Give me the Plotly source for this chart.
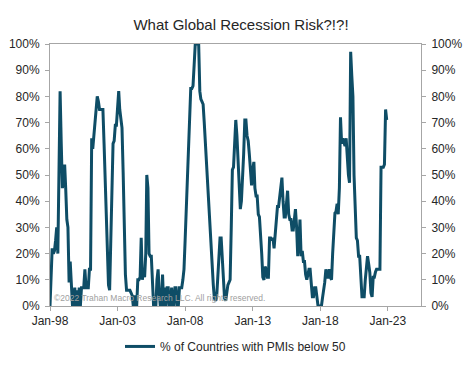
import plotly.graph_objects as go
import pandas as pd

# Monthly share of countries with PMI below 50 (%), Jan-1998 .. Dec-2022
start_month = "1998-01-01"
y1998 = [0, 10, 22, 20, 21, 25, 30, 20, 55, 82, 62, 45]
y1999 = [48, 54, 45, 33, 30, 9, 17, 5, 0, 0, 7, 0]
y2000 = [6, 0, 7, 0, 7, 7, 7, 14, 7, 7, 7, 14]
y2001 = [14, 64, 60, 65, 70, 78, 80, 78, 75, 75, 75, 75]
y2002 = [62, 48, 34, 20, 8, 6, 25, 45, 62, 63, 69, 69]
y2003 = [75, 82, 75, 72, 68, 51, 30, 12, 6, 6, 6, 6]
y2004 = [5, 4, 0, 4, 0, 0, 10, 10, 11, 26, 10, 14]
y2005 = [11, 20, 50, 45, 20, 19, 19, 10, 0, 0, 0, 10]
y2006 = [14, 5, 0, 0, 12, 0, 7, 0, 7, 7, 0, 0]
y2007 = [7, 0, 0, 7, 7, 0, 0, 7, 7, 7, 10, 14]
y2008 = [25, 38, 52, 65, 76, 83, 83, 84, 92, 100, 100, 100]
y2009 = [100, 82, 79, 78, 77, 70, 62, 54, 46, 38, 28, 20]
y2010 = [14, 8, 3, 2, 3, 12, 20, 26, 26, 19, 10, 3]
y2011 = [2, 5, 8, 9, 10, 30, 52, 53, 60, 71, 65, 55]
y2012 = [45, 37, 40, 48, 58, 71, 71, 65, 63, 58, 52, 46]
y2013 = [52, 55, 45, 42, 42, 35, 34, 28, 20, 11, 10, 15]
y2014 = [14, 11, 11, 26, 26, 25, 26, 22, 28, 33, 38, 38]
y2015 = [42, 46, 49, 40, 34, 34, 40, 44, 35, 33, 33, 29]
y2016 = [29, 33, 37, 30, 19, 24, 33, 19, 21, 17, 17, 12]
y2017 = [10, 12, 14, 14, 8, 3.5, 3.5, 7, 7, 3, 0, 0]
y2018 = [0, 0, 3, 6, 9, 14, 11, 11, 14, 11, 10, 20]
y2019 = [26, 35.5, 36, 39, 35, 45, 72, 62, 64, 62, 61, 64]
y2020 = [55, 50, 47, 97, 88, 80, 50, 35, 26, 25, 19, 19]
y2021 = [8, 3.5, 3.5, 3.5, 10, 14, 19, 16, 12.7, 5, 3.5, 11]
y2022 = [11, 13, 14, 14, 14, 14, 53, 53, 53, 54, 75, 71]

series_name = "% of Countries with PMIs below 50"
title_text = "What Global Recession Risk?!?!"
copyright_text = "©2022 Trahan Macro Research LLC. All rights reserved."
y_tick_vals = [0, 0.1, 0.2, 0.3, 0.4, 0.5, 0.6, 0.7, 0.8, 0.9, 1.0]
x_range = ["1998-01-01", "2025-06-15"]

values = (y1998 + y1999 + y2000 + y2001 + y2002 + y2003 + y2004 + y2005 + y2006
          + y2007 + y2008 + y2009 + y2010 + y2011 + y2012 + y2013 + y2014 + y2015
          + y2016 + y2017 + y2018 + y2019 + y2020 + y2021 + y2022)
dates = pd.date_range(start_month, periods=len(values), freq="MS")
share = [v / 100 for v in values]

line_color = "#0e4d66"
axis_color = "#a6a6a6"
text_color = "#262626"
font_family = "Liberation Sans, Arial, sans-serif"

fig = go.Figure()
fig.add_trace(go.Scatter(
    x=dates, y=share, mode="lines", name=series_name,
    line=dict(color=line_color, width=3),
))
# invisible trace to activate right-hand axis
fig.add_trace(go.Scatter(
    x=[dates[0], dates[-1]], y=[0, 1], mode="lines", yaxis="y2",
    line=dict(color="rgba(0,0,0,0)", width=0), showlegend=False, hoverinfo="skip",
))

# page body has an 8px default margin, so the figure is sized to fit the window
fig.update_layout(
    width=466, height=364,
    margin=dict(l=42, r=53, t=36, b=66, autoexpand=False),
    paper_bgcolor="white", plot_bgcolor="white",
    font=dict(family=font_family, size=12, color=text_color),
    title=dict(text=title_text, x=0.5, xanchor="center", y=0.953, yanchor="middle",
               yref="container",
               font=dict(size=15, color=text_color, family=font_family)),
    showlegend=True,
    legend=dict(orientation="h", x=0.5, xanchor="center", y=-0.099, yanchor="top",
                font=dict(size=12, color=text_color), bgcolor="rgba(0,0,0,0)"),
    xaxis=dict(
        type="date", range=x_range, tick0="1998-01-01", dtick="M60",
        tickformat="%b-%y", showgrid=False, zeroline=False, automargin=False,
        showline=True, linecolor=axis_color, linewidth=1, mirror=True,
        ticks="outside", ticklen=4, tickcolor=axis_color,
        tickfont=dict(size=12, color=text_color),
    ),
    yaxis=dict(
        range=[0, 1], tickvals=y_tick_vals, tickformat=".0%", automargin=False,
        showgrid=False, zeroline=False,
        showline=True, linecolor=axis_color, linewidth=1,
        ticks="outside", ticklen=4, tickcolor=axis_color,
        tickfont=dict(size=12, color=text_color), ticklabelstandoff=3,
    ),
    yaxis2=dict(
        range=[0, 1], tickvals=y_tick_vals, tickformat=".0%", automargin=False,
        overlaying="y", side="right", showgrid=False, zeroline=False,
        showline=True, linecolor=axis_color, linewidth=1,
        ticks="outside", ticklen=4, tickcolor=axis_color,
        tickfont=dict(size=12, color=text_color), ticklabelstandoff=3,
    ),
)

fig.add_annotation(
    text=copyright_text, xref="paper", yref="paper", x=0.006, y=0.005,
    xanchor="left", yanchor="bottom", showarrow=False,
    font=dict(size=8.5, color="#a0a0a0", family=font_family),
)

fig.write_html("out.html")
